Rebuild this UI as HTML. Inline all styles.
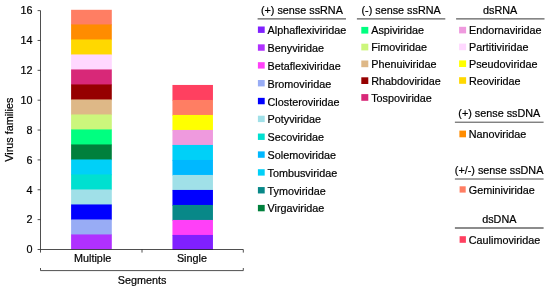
<!DOCTYPE html>
<html><head><meta charset="utf-8"><title>Virus families</title>
<style>
html,body{margin:0;padding:0;background:#fff;}
body{width:550px;height:289px;overflow:hidden;}
svg{display:block;}
svg text{font-family:"Liberation Sans",Arial,Helvetica,sans-serif;font-size:10.8px;fill:#000;stroke:#000;stroke-width:0.2px;}
</style></head><body>
<svg width="550" height="289" viewBox="0 0 550 289">
<rect width="550" height="289" fill="#fff"/>
<rect x="71.10" y="9.80" width="40.70" height="15.35" fill="#ff7e63"/>
<rect x="71.10" y="24.45" width="40.70" height="15.70" fill="#ff8c00"/>
<rect x="71.10" y="39.45" width="40.70" height="15.70" fill="#ffd800"/>
<rect x="71.10" y="54.45" width="40.70" height="15.70" fill="#ffd8ff"/>
<rect x="71.10" y="69.45" width="40.70" height="15.70" fill="#d82878"/>
<rect x="71.10" y="84.45" width="40.70" height="15.70" fill="#960000"/>
<rect x="71.10" y="99.45" width="40.70" height="15.70" fill="#deb887"/>
<rect x="71.10" y="114.45" width="40.70" height="15.70" fill="#ccf67c"/>
<rect x="71.10" y="129.45" width="40.70" height="15.70" fill="#00ff80"/>
<rect x="71.10" y="144.45" width="40.70" height="15.70" fill="#00803c"/>
<rect x="71.10" y="159.45" width="40.70" height="15.70" fill="#00d0f8"/>
<rect x="71.10" y="174.45" width="40.70" height="15.70" fill="#00e0d0"/>
<rect x="71.10" y="189.45" width="40.70" height="15.70" fill="#a0e0e8"/>
<rect x="71.10" y="204.45" width="40.70" height="15.70" fill="#0000ff"/>
<rect x="71.10" y="219.45" width="40.70" height="15.70" fill="#98acf5"/>
<rect x="71.10" y="234.45" width="40.70" height="15.00" fill="#b030ff"/>
<rect x="172.45" y="84.95" width="40.50" height="15.70" fill="#ff4060"/>
<rect x="172.45" y="99.95" width="40.50" height="15.70" fill="#ff7e63"/>
<rect x="172.45" y="114.95" width="40.50" height="15.70" fill="#ffff00"/>
<rect x="172.45" y="129.95" width="40.50" height="15.70" fill="#ef9ade"/>
<rect x="172.45" y="144.95" width="40.50" height="15.70" fill="#00d0f8"/>
<rect x="172.45" y="159.95" width="40.50" height="15.70" fill="#00b8ff"/>
<rect x="172.45" y="174.95" width="40.50" height="15.70" fill="#a0e0e8"/>
<rect x="172.45" y="189.95" width="40.50" height="15.70" fill="#0000ff"/>
<rect x="172.45" y="204.95" width="40.50" height="15.70" fill="#088888"/>
<rect x="172.45" y="219.95" width="40.50" height="15.70" fill="#ff40f8"/>
<rect x="172.45" y="234.95" width="40.50" height="15.00" fill="#8020ff"/>
<path d="M40.50 10.60 V249.50 M37.60 249.50 H40.50 M37.60 219.64 H40.50 M37.60 189.78 H40.50 M37.60 159.92 H40.50 M37.60 130.06 H40.50 M37.60 100.20 H40.50 M37.60 70.34 H40.50 M37.60 40.48 H40.50 M37.60 10.62 H40.50 M40.50 249.50 H243.30 M40.50 249.50 V252.60 M142.00 249.50 V252.60 M243.30 249.50 V252.60 M40.5 268 V270.6 H243.3 V268" stroke="#222" stroke-width="0.8" fill="none"/>
<text x="32.6" y="253.30" text-anchor="end">0</text>
<text x="32.6" y="223.44" text-anchor="end">2</text>
<text x="32.6" y="193.58" text-anchor="end">4</text>
<text x="32.6" y="163.72" text-anchor="end">6</text>
<text x="32.6" y="133.86" text-anchor="end">8</text>
<text x="32.6" y="104.00" text-anchor="end">10</text>
<text x="32.6" y="74.14" text-anchor="end">12</text>
<text x="32.6" y="44.28" text-anchor="end">14</text>
<text x="32.6" y="14.42" text-anchor="end">16</text>
<text transform="translate(13,129.7) rotate(-90)" text-anchor="middle">Virus families</text>
<text x="92.7" y="261.7" text-anchor="middle">Multiple</text>
<text x="191.9" y="261.8" text-anchor="middle">Single</text>
<text x="142.1" y="284.4" text-anchor="middle">Segments</text>
<text x="301.90" y="14.10" text-anchor="middle">(+) sense ssRNA</text>
<line x1="257.60" y1="18.90" x2="346.00" y2="18.90" stroke="#5e5e5e" stroke-width="1.35"/>
<rect x="257.90" y="26.50" width="6.80" height="6.40" fill="#8020ff"/>
<text x="267.55" y="34.40">Alphaflexiviridae</text>
<rect x="257.90" y="44.34" width="6.80" height="6.40" fill="#b030ff"/>
<text x="267.55" y="52.19">Benyviridae</text>
<rect x="257.90" y="62.18" width="6.80" height="6.40" fill="#ff40f8"/>
<text x="267.55" y="69.98">Betaflexiviridae</text>
<rect x="257.90" y="80.02" width="6.80" height="6.40" fill="#98acf5"/>
<text x="267.55" y="87.77">Bromoviridae</text>
<rect x="257.90" y="97.86" width="6.80" height="6.40" fill="#0000ff"/>
<text x="267.55" y="105.56">Closteroviridae</text>
<rect x="257.90" y="115.70" width="6.80" height="6.40" fill="#a0e0e8"/>
<text x="267.55" y="123.35">Potyviridae</text>
<rect x="257.90" y="133.54" width="6.80" height="6.40" fill="#00e0d0"/>
<text x="267.55" y="141.14">Secoviridae</text>
<rect x="257.90" y="151.38" width="6.80" height="6.40" fill="#00b8ff"/>
<text x="267.55" y="158.93">Solemoviridae</text>
<rect x="257.90" y="169.22" width="6.80" height="6.40" fill="#00d0f8"/>
<text x="267.55" y="176.72">Tombusviridae</text>
<rect x="257.90" y="187.06" width="6.80" height="6.40" fill="#088888"/>
<text x="267.55" y="194.51">Tymoviridae</text>
<rect x="257.90" y="204.90" width="6.80" height="6.40" fill="#00803c"/>
<text x="267.55" y="212.30">Virgaviridae</text>
<text x="401.10" y="13.60" text-anchor="middle">(-) sense ssRNA</text>
<line x1="356.90" y1="18.90" x2="445.30" y2="18.90" stroke="#5e5e5e" stroke-width="1.35"/>
<rect x="361.30" y="26.90" width="7.00" height="6.70" fill="#00ff80"/>
<text x="371.20" y="34.30">Aspiviridae</text>
<rect x="361.30" y="43.70" width="7.00" height="6.70" fill="#ccf67c"/>
<text x="371.20" y="51.10">Fimoviridae</text>
<rect x="361.30" y="60.50" width="7.00" height="6.70" fill="#deb887"/>
<text x="371.20" y="67.90">Phenuiviridae</text>
<rect x="361.30" y="77.30" width="7.00" height="6.70" fill="#960000"/>
<text x="371.20" y="84.70">Rhabdoviridae</text>
<rect x="361.30" y="94.10" width="7.00" height="6.70" fill="#d82878"/>
<text x="371.20" y="101.50">Tospoviridae</text>
<text x="500.10" y="13.60" text-anchor="middle">dsRNA</text>
<line x1="456.10" y1="18.90" x2="544.50" y2="18.90" stroke="#5e5e5e" stroke-width="1.35"/>
<rect x="459.10" y="26.80" width="7.00" height="6.60" fill="#ef9ade"/>
<text x="469.00" y="34.40">Endornaviridae</text>
<rect x="459.10" y="43.60" width="7.00" height="6.60" fill="#ffd8ff"/>
<text x="469.00" y="51.20">Partitiviridae</text>
<rect x="459.10" y="60.40" width="7.00" height="6.60" fill="#ffff00"/>
<text x="469.00" y="68.00">Pseudoviridae</text>
<rect x="459.10" y="77.20" width="7.00" height="6.60" fill="#ffd800"/>
<text x="469.00" y="84.80">Reoviridae</text>
<text x="499.30" y="117.20" text-anchor="middle">(+) sense ssDNA</text>
<line x1="454.90" y1="122.20" x2="543.60" y2="122.20" stroke="#4a4a4a" stroke-width="1.0"/>
<rect x="459.40" y="130.60" width="6.60" height="6.70" fill="#ff8c00"/>
<text x="468.70" y="138.20">Nanoviridae</text>
<text x="499.10" y="174.10" text-anchor="middle">(+/-) sense ssDNA</text>
<line x1="454.90" y1="179.00" x2="543.60" y2="179.00" stroke="#333" stroke-width="0.9"/>
<rect x="459.60" y="186.30" width="6.10" height="6.30" fill="#ff7e63"/>
<text x="468.80" y="193.75">Geminiviridae</text>
<text x="499.30" y="222.50" text-anchor="middle">dsDNA</text>
<line x1="454.90" y1="228.10" x2="543.60" y2="228.10" stroke="#666" stroke-width="1.5"/>
<rect x="459.60" y="236.20" width="6.30" height="6.60" fill="#ff4060"/>
<text x="468.80" y="243.80">Caulimoviridae</text>
</svg>
</body></html>
